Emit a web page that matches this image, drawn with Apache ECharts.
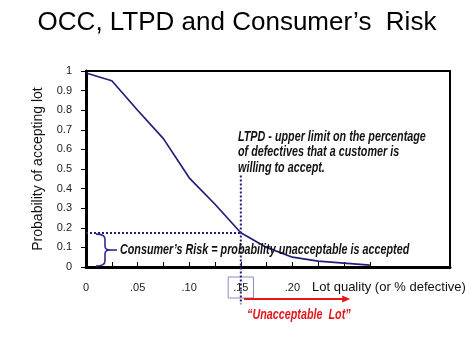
<!DOCTYPE html>
<html>
<head>
<meta charset="utf-8">
<script src="https://cdn.jsdelivr.net/npm/echarts@6/dist/echarts.min.js"></script>
<style>
  html, body { margin: 0; padding: 0; background: #fff; }
  #chart { width: 474px; height: 355px; }
</style>
</head>
<body>
<div id="chart"></div>
<script>
// OC curve values
const lotQuality = [0, 0.025, 0.05, 0.075, 0.1, 0.125, 0.15, 0.175, 0.2, 0.225, 0.25, 0.275];
const probAccept = [0.99, 0.95, 0.80, 0.655, 0.455, 0.32, 0.175, 0.10, 0.05, 0.03, 0.02, 0.01];
const xTickValues = lotQuality;
const xLabelValues = [0, 0.05, 0.1, 0.15, 0.2];
const xLabelTexts = ['0', '.05', '.10', '.15', '.20'];
const ltpd = 0.15;
const consumerRisk = 0.173;
const ltpdGuide = [[ltpd, 0.467], [ltpd, -0.19]];
const riskGuide = [[0, consumerRisk], [ltpd, consumerRisk]];
const unacceptableSpan = [0.153, 0.256];

const NAVY = '#1f1f78';
const BRACE = '#2b2b8c';
const RED = '#e3161c';
const FONT = "'Liberation Sans', Arial, sans-serif";

const chart = echarts.init(document.getElementById('chart'), null, { renderer: 'canvas' });

chart.setOption({
  backgroundColor: '#fff',
  animation: false,
  title: {
    text: 'OCC, LTPD and Consumer\u2019s  Risk',
    left: 'center', top: 5,
    textStyle: { fontFamily: FONT, fontSize: 26, fontWeight: 'normal', color: '#000' },
  },
  grid: { left: 86, right: 24, top: 71, bottom: 88, show: true, borderColor: '#000', borderWidth: 2 },
  xAxis: {
    type: 'value', min: 0, max: 0.3527,
    axisLine: { onZero: false, lineStyle: { color: '#000', width: 3 } },
    axisTick: { inside: true, length: 5, customValues: xTickValues, lineStyle: { color: '#000', width: 1 } },
    axisLabel: {
      customValues: xLabelValues, margin: 10,
      formatter: (v) => {
        const i = xLabelValues.findIndex((x) => Math.abs(x - v) < 1e-6);
        const t = i < 0 ? '' : xLabelTexts[i];
        return Math.abs(v - ltpd) < 1e-6 ? '{box|' + t + '}' : '{n|' + t + '}';
      },
      rich: {
        n: { fontFamily: FONT, fontSize: 11, color: '#222', padding: [5, 5] },
        box: { fontFamily: FONT, fontSize: 11, color: '#222', padding: [5, 5], borderColor: '#8a8cc0', borderWidth: 1 },
      },
    },
    splitLine: { show: false },
  },
  yAxis: {
    type: 'value', min: 0, max: 1, interval: 0.1,
    name: 'Probability of accepting lot', nameLocation: 'middle', nameGap: 41,
    nameTextStyle: { fontFamily: FONT, fontSize: 14, color: '#111' },
    axisLine: { show: true, lineStyle: { color: '#000', width: 3 } },
    axisTick: { show: true, length: 5, lineStyle: { color: '#000', width: 1 } },
    axisLabel: { fontFamily: FONT, fontSize: 11, color: '#222', margin: 14 },
    splitLine: { show: false },
  },
  series: [
    {
      name: 'OC curve', type: 'line', data: lotQuality.map((x, i) => [x, probAccept[i]]),
      showSymbol: false, symbol: 'none', smooth: false,
      lineStyle: { color: NAVY, width: 1.7 }, z: 3,
    },
    {
      name: 'LTPD guide', type: 'line', data: ltpdGuide, clip: false, symbol: 'none',
      lineStyle: { color: NAVY, width: 2, type: [2, 2] }, z: 4,
    },
    {
      name: 'Risk guide', type: 'line', data: riskGuide, clip: false, symbol: 'none',
      lineStyle: { color: NAVY, width: 2, type: [2, 2] }, z: 4,
    },
  ],
});

// annotations placed from the axes' own scales
const px = (x, y) => chart.convertToPixel({ gridIndex: 0 }, [x, y]);
const riskY = px(0, consumerRisk)[1];
const zeroY = px(0, 0)[1];
const midY = (riskY + zeroY) / 2;
const bx = 96, sx = 105, tip = 110;
const arrowL = px(unacceptableSpan[0], 0)[0];
const arrowR = px(unacceptableSpan[1], 0)[0];
const arrowY = 299;

const braceStyle = { stroke: BRACE, lineWidth: 1.6, fill: null };
const seg = (x1, y1, x2, y2) => ({ type: 'line', shape: { x1, y1, x2, y2 }, style: braceStyle, z: 10 });
const curve = (x1, y1, cpx1, cpy1, x2, y2) => ({ type: 'bezierCurve', shape: { x1, y1, cpx1, cpy1, x2, y2 }, style: braceStyle, z: 10 });

// slide used a narrow bold italic face: squeeze a regular one
const narrow = (x, y, text, fill, extra) => ({
  type: 'text', x, y, scaleX: 0.77, z: 10,
  style: Object.assign({ text, fill, font: 'italic bold 14px ' + FONT, align: 'left', verticalAlign: 'middle' }, extra || {}),
});

chart.setOption({
  graphic: [
    curve(bx, riskY + 1, sx, riskY + 1, sx, riskY + 6),
    seg(sx, riskY + 6, sx, midY - 4),
    curve(sx, midY - 4, sx, midY, tip, midY),
    curve(tip, midY, sx, midY, sx, midY + 4),
    seg(sx, midY + 4, sx, zeroY - 6),
    curve(sx, zeroY - 6, sx, zeroY - 1, bx, zeroY - 1),
    seg(tip, midY, 117, midY),
    narrow(120, midY, 'Consumer\u2019s Risk = probability unacceptable is accepted', '#111'),
    narrow(238, 129, 'LTPD - upper limit on the percentage\nof defectives that a customer is\nwilling to accept.', '#111', { verticalAlign: 'top', lineHeight: 15.5 }),
    { type: 'text', x: 312, y: 287, z: 10, style: { text: 'Lot quality (or % defective)', font: '13px ' + FONT, fill: '#111', align: 'left', verticalAlign: 'middle' } },
    { type: 'line', shape: { x1: arrowL, y1: arrowY, x2: arrowR - 6, y2: arrowY }, style: { stroke: RED, lineWidth: 2 }, z: 10 },
    { type: 'polygon', shape: { points: [[arrowR - 8, arrowY - 3.5], [arrowR, arrowY], [arrowR - 8, arrowY + 3.5]] }, style: { fill: RED }, z: 10 },
    narrow(247, 315, '\u201cUnacceptable  Lot\u201d', RED),
  ],
});
</script>
</body>
</html>
